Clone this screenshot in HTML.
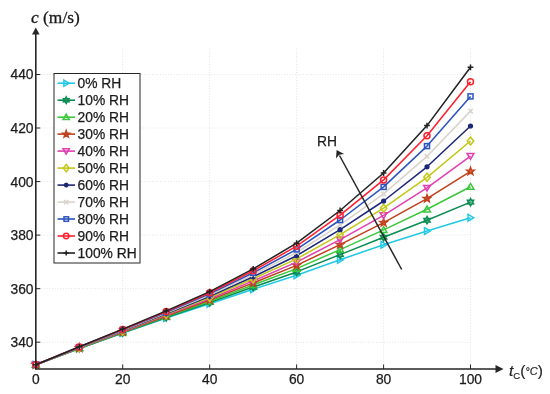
<!DOCTYPE html>
<html lang="en"><head><meta charset="utf-8"><title>Speed of sound vs temperature for RH</title>
<style>html,body{margin:0;padding:0;background:#fff}svg{display:block}</style></head>
<body>
<svg width="550" height="394" viewBox="0 0 550 394">
<rect width="550" height="394" fill="#fff"/>
<path d="M122.7 47.7V369.0M209.7 47.7V369.0M296.6 47.7V369.0M383.6 47.7V369.0M470.5 47.7V369.0M35.8 342.2H470.5M35.8 288.7H470.5M35.8 235.1H470.5M35.8 181.6H470.5M35.8 128.0H470.5M35.8 74.5H470.5" fill="none" stroke="#e2e2e2" stroke-width="1" stroke-dasharray="1 1.7"/>
<polyline points="35.8,364.7 79.3,348.6 122.7,333.1 166.2,318.1 209.7,303.7 253.2,289.2 296.6,275.3 340.1,259.7 383.6,244.8 427.0,231.1 470.5,217.7" fill="none" stroke="#22c8e6" stroke-width="1.55" stroke-linejoin="round"/>
<path d="M33.2 361.3L39.0 364.7L33.2 368.1Z" fill="none" stroke="#22c8e6" stroke-width="1.5"/>
<path d="M76.7 345.2L82.5 348.6L76.7 352.0Z" fill="none" stroke="#22c8e6" stroke-width="1.5"/>
<path d="M120.2 329.7L126.0 333.1L120.2 336.5Z" fill="none" stroke="#22c8e6" stroke-width="1.5"/>
<path d="M163.7 314.7L169.4 318.1L163.7 321.5Z" fill="none" stroke="#22c8e6" stroke-width="1.5"/>
<path d="M207.1 300.3L212.9 303.7L207.1 307.1Z" fill="none" stroke="#22c8e6" stroke-width="1.5"/>
<path d="M250.6 285.8L256.4 289.2L250.6 292.6Z" fill="none" stroke="#22c8e6" stroke-width="1.5"/>
<path d="M294.1 271.9L299.9 275.3L294.1 278.7Z" fill="none" stroke="#22c8e6" stroke-width="1.5"/>
<path d="M337.5 256.3L343.3 259.7L337.5 263.1Z" fill="none" stroke="#22c8e6" stroke-width="1.5"/>
<path d="M381.0 241.4L386.8 244.8L381.0 248.2Z" fill="none" stroke="#22c8e6" stroke-width="1.5"/>
<path d="M424.5 227.7L430.3 231.1L424.5 234.5Z" fill="none" stroke="#22c8e6" stroke-width="1.5"/>
<path d="M468.0 214.3L473.7 217.7L468.0 221.1Z" fill="none" stroke="#22c8e6" stroke-width="1.5"/>
<polyline points="35.8,364.7 79.3,348.4 122.7,332.7 166.2,317.4 209.7,302.4 253.2,287.1 296.6,271.9 340.1,254.6 383.6,237.3 427.0,220.2 470.5,202.1" fill="none" stroke="#0a8c50" stroke-width="1.55" stroke-linejoin="round"/>
<path d="M35.8 361.1L34.8 362.9L32.7 362.9L33.7 364.7L32.7 366.5L34.8 366.5L35.8 368.3L36.8 366.5L38.9 366.5L37.9 364.7L38.9 362.9L36.9 362.9Z" fill="#0a8c50" fill-opacity="0.55" stroke="#0a8c50" stroke-width="1.5"/>
<path d="M79.3 344.8L78.2 346.6L76.2 346.6L77.2 348.4L76.2 350.2L78.2 350.2L79.3 352.0L80.3 350.2L82.4 350.2L81.4 348.4L82.4 346.6L80.3 346.6Z" fill="#0a8c50" fill-opacity="0.55" stroke="#0a8c50" stroke-width="1.5"/>
<path d="M122.7 329.1L121.7 330.9L119.6 330.9L120.6 332.7L119.6 334.5L121.7 334.5L122.7 336.3L123.8 334.5L125.9 334.5L124.8 332.7L125.9 330.9L123.8 330.9Z" fill="#0a8c50" fill-opacity="0.55" stroke="#0a8c50" stroke-width="1.5"/>
<path d="M166.2 313.8L165.2 315.5L163.1 315.6L164.1 317.4L163.1 319.2L165.2 319.2L166.2 321.0L167.3 319.2L169.3 319.2L168.3 317.4L169.3 315.6L167.3 315.5Z" fill="#0a8c50" fill-opacity="0.55" stroke="#0a8c50" stroke-width="1.5"/>
<path d="M209.7 298.8L208.6 300.6L206.6 300.6L207.6 302.4L206.6 304.2L208.6 304.2L209.7 306.0L210.7 304.2L212.8 304.2L211.8 302.4L212.8 300.6L210.7 300.6Z" fill="#0a8c50" fill-opacity="0.55" stroke="#0a8c50" stroke-width="1.5"/>
<path d="M253.2 283.5L252.1 285.3L250.0 285.3L251.1 287.1L250.0 288.9L252.1 288.9L253.2 290.7L254.2 288.9L256.3 288.9L255.3 287.1L256.3 285.3L254.2 285.3Z" fill="#0a8c50" fill-opacity="0.55" stroke="#0a8c50" stroke-width="1.5"/>
<path d="M296.6 268.3L295.6 270.1L293.5 270.1L294.5 271.9L293.5 273.7L295.6 273.8L296.6 275.5L297.7 273.8L299.7 273.7L298.7 271.9L299.7 270.1L297.7 270.1Z" fill="#0a8c50" fill-opacity="0.55" stroke="#0a8c50" stroke-width="1.5"/>
<path d="M340.1 251.0L339.0 252.8L337.0 252.8L338.0 254.6L337.0 256.4L339.0 256.5L340.1 258.2L341.1 256.5L343.2 256.4L342.2 254.6L343.2 252.8L341.1 252.8Z" fill="#0a8c50" fill-opacity="0.55" stroke="#0a8c50" stroke-width="1.5"/>
<path d="M383.6 233.7L382.5 235.5L380.4 235.5L381.5 237.3L380.4 239.1L382.5 239.1L383.6 240.9L384.6 239.1L386.7 239.1L385.7 237.3L386.7 235.5L384.6 235.5Z" fill="#0a8c50" fill-opacity="0.55" stroke="#0a8c50" stroke-width="1.5"/>
<path d="M427.0 216.6L426.0 218.4L423.9 218.4L424.9 220.2L423.9 222.0L426.0 222.0L427.0 223.8L428.1 222.0L430.1 222.0L429.1 220.2L430.1 218.4L428.1 218.4Z" fill="#0a8c50" fill-opacity="0.55" stroke="#0a8c50" stroke-width="1.5"/>
<path d="M470.5 198.5L469.5 200.3L467.4 200.3L468.4 202.1L467.4 203.9L469.5 204.0L470.5 205.7L471.6 204.0L473.6 203.9L472.6 202.1L473.6 200.3L471.6 200.3Z" fill="#0a8c50" fill-opacity="0.55" stroke="#0a8c50" stroke-width="1.5"/>
<polyline points="35.8,364.7 79.3,348.2 122.7,332.3 166.2,316.6 209.7,301.2 253.2,285.0 296.6,268.6 340.1,249.6 383.6,229.9 427.0,209.3 470.5,186.7" fill="none" stroke="#3cc83c" stroke-width="1.55" stroke-linejoin="round"/>
<path d="M32.4 367.2L35.8 361.5L39.2 367.2Z" fill="none" stroke="#3cc83c" stroke-width="1.5"/>
<path d="M75.9 350.8L79.3 345.0L82.7 350.8Z" fill="none" stroke="#3cc83c" stroke-width="1.5"/>
<path d="M119.3 334.8L122.7 329.0L126.1 334.8Z" fill="none" stroke="#3cc83c" stroke-width="1.5"/>
<path d="M162.8 319.2L166.2 313.4L169.6 319.2Z" fill="none" stroke="#3cc83c" stroke-width="1.5"/>
<path d="M206.3 303.7L209.7 297.9L213.1 303.7Z" fill="none" stroke="#3cc83c" stroke-width="1.5"/>
<path d="M249.8 287.5L253.2 281.8L256.6 287.5Z" fill="none" stroke="#3cc83c" stroke-width="1.5"/>
<path d="M293.2 271.2L296.6 265.4L300.0 271.2Z" fill="none" stroke="#3cc83c" stroke-width="1.5"/>
<path d="M336.7 252.1L340.1 246.4L343.5 252.1Z" fill="none" stroke="#3cc83c" stroke-width="1.5"/>
<path d="M380.2 232.5L383.6 226.7L387.0 232.5Z" fill="none" stroke="#3cc83c" stroke-width="1.5"/>
<path d="M423.6 211.9L427.0 206.1L430.4 211.9Z" fill="none" stroke="#3cc83c" stroke-width="1.5"/>
<path d="M467.1 189.2L470.5 183.4L473.9 189.2Z" fill="none" stroke="#3cc83c" stroke-width="1.5"/>
<polyline points="35.8,364.7 79.3,348.0 122.7,331.9 166.2,315.9 209.7,299.9 253.2,282.9 296.6,265.4 340.1,244.6 383.6,222.6 427.0,198.6 470.5,171.3" fill="none" stroke="#c0401c" stroke-width="1.55" stroke-linejoin="round"/>
<path d="M35.8 360.8L34.9 363.4L32.1 363.5L34.3 365.2L33.5 367.8L35.8 366.3L38.1 367.8L37.3 365.2L39.5 363.5L36.7 363.4Z" fill="#c0401c" fill-opacity="0.6" stroke="#c0401c" stroke-width="1.5"/>
<path d="M79.3 344.1L78.3 346.8L75.6 346.8L77.7 348.5L77.0 351.2L79.3 349.6L81.6 351.2L80.8 348.5L83.0 346.8L80.2 346.8Z" fill="#c0401c" fill-opacity="0.6" stroke="#c0401c" stroke-width="1.5"/>
<path d="M122.7 328.0L121.8 330.6L119.0 330.7L121.2 332.4L120.4 335.0L122.7 333.5L125.0 335.0L124.3 332.4L126.4 330.7L123.7 330.6Z" fill="#c0401c" fill-opacity="0.6" stroke="#c0401c" stroke-width="1.5"/>
<path d="M166.2 312.0L165.3 314.6L162.5 314.7L164.7 316.4L163.9 319.0L166.2 317.5L168.5 319.0L167.7 316.4L169.9 314.7L167.2 314.6Z" fill="#c0401c" fill-opacity="0.6" stroke="#c0401c" stroke-width="1.5"/>
<path d="M209.7 296.0L208.7 298.6L206.0 298.7L208.2 300.4L207.4 303.1L209.7 301.5L212.0 303.1L211.2 300.4L213.4 298.7L210.6 298.6Z" fill="#c0401c" fill-opacity="0.6" stroke="#c0401c" stroke-width="1.5"/>
<path d="M253.2 279.0L252.2 281.6L249.4 281.7L251.6 283.4L250.9 286.1L253.2 284.5L255.4 286.1L254.7 283.4L256.9 281.7L254.1 281.6Z" fill="#c0401c" fill-opacity="0.6" stroke="#c0401c" stroke-width="1.5"/>
<path d="M296.6 261.5L295.7 264.1L292.9 264.2L295.1 265.9L294.3 268.5L296.6 267.0L298.9 268.5L298.1 265.9L300.3 264.2L297.6 264.1Z" fill="#c0401c" fill-opacity="0.6" stroke="#c0401c" stroke-width="1.5"/>
<path d="M340.1 240.7L339.1 243.3L336.4 243.4L338.6 245.1L337.8 247.7L340.1 246.2L342.4 247.7L341.6 245.1L343.8 243.4L341.0 243.3Z" fill="#c0401c" fill-opacity="0.6" stroke="#c0401c" stroke-width="1.5"/>
<path d="M383.6 218.7L382.6 221.3L379.9 221.4L382.0 223.1L381.3 225.8L383.6 224.2L385.9 225.8L385.1 223.1L387.3 221.4L384.5 221.3Z" fill="#c0401c" fill-opacity="0.6" stroke="#c0401c" stroke-width="1.5"/>
<path d="M427.0 194.7L426.1 197.3L423.3 197.4L425.5 199.1L424.7 201.7L427.0 200.2L429.3 201.7L428.6 199.1L430.7 197.4L428.0 197.3Z" fill="#c0401c" fill-opacity="0.6" stroke="#c0401c" stroke-width="1.5"/>
<path d="M470.5 167.4L469.6 170.0L466.8 170.1L469.0 171.8L468.2 174.5L470.5 172.9L472.8 174.5L472.0 171.8L474.2 170.1L471.4 170.0Z" fill="#c0401c" fill-opacity="0.6" stroke="#c0401c" stroke-width="1.5"/>
<polyline points="35.8,364.7 79.3,347.9 122.7,331.5 166.2,315.1 209.7,298.7 253.2,280.9 296.6,262.1 340.1,239.6 383.6,215.4 427.0,187.9 470.5,156.1" fill="none" stroke="#e040b0" stroke-width="1.55" stroke-linejoin="round"/>
<path d="M32.4 362.1L35.8 367.9L39.2 362.1Z" fill="none" stroke="#e040b0" stroke-width="1.5"/>
<path d="M75.9 345.3L79.3 351.1L82.7 345.3Z" fill="none" stroke="#e040b0" stroke-width="1.5"/>
<path d="M119.3 328.9L122.7 334.7L126.1 328.9Z" fill="none" stroke="#e040b0" stroke-width="1.5"/>
<path d="M162.8 312.6L166.2 318.4L169.6 312.6Z" fill="none" stroke="#e040b0" stroke-width="1.5"/>
<path d="M206.3 296.2L209.7 301.9L213.1 296.2Z" fill="none" stroke="#e040b0" stroke-width="1.5"/>
<path d="M249.8 278.3L253.2 284.1L256.6 278.3Z" fill="none" stroke="#e040b0" stroke-width="1.5"/>
<path d="M293.2 259.6L296.6 265.3L300.0 259.6Z" fill="none" stroke="#e040b0" stroke-width="1.5"/>
<path d="M336.7 237.0L340.1 242.8L343.5 237.0Z" fill="none" stroke="#e040b0" stroke-width="1.5"/>
<path d="M380.2 212.8L383.6 218.6L387.0 212.8Z" fill="none" stroke="#e040b0" stroke-width="1.5"/>
<path d="M423.6 185.4L427.0 191.1L430.4 185.4Z" fill="none" stroke="#e040b0" stroke-width="1.5"/>
<path d="M467.1 153.5L470.5 159.3L473.9 153.5Z" fill="none" stroke="#e040b0" stroke-width="1.5"/>
<polyline points="35.8,364.7 79.3,347.7 122.7,331.1 166.2,314.4 209.7,297.5 253.2,278.8 296.6,258.9 340.1,234.6 383.6,208.2 427.0,177.3 470.5,141.0" fill="none" stroke="#c4c818" stroke-width="1.55" stroke-linejoin="round"/>
<path d="M32.6 364.7L35.8 360.7L39.0 364.7L35.8 368.7Z" fill="none" stroke="#c4c818" stroke-width="1.5"/>
<path d="M76.1 347.7L79.3 343.7L82.5 347.7L79.3 351.7Z" fill="none" stroke="#c4c818" stroke-width="1.5"/>
<path d="M119.5 331.1L122.7 327.1L125.9 331.1L122.7 335.1Z" fill="none" stroke="#c4c818" stroke-width="1.5"/>
<path d="M163.0 314.4L166.2 310.4L169.4 314.4L166.2 318.4Z" fill="none" stroke="#c4c818" stroke-width="1.5"/>
<path d="M206.5 297.5L209.7 293.5L212.9 297.5L209.7 301.5Z" fill="none" stroke="#c4c818" stroke-width="1.5"/>
<path d="M250.0 278.8L253.2 274.8L256.4 278.8L253.2 282.8Z" fill="none" stroke="#c4c818" stroke-width="1.5"/>
<path d="M293.4 258.9L296.6 254.9L299.8 258.9L296.6 262.9Z" fill="none" stroke="#c4c818" stroke-width="1.5"/>
<path d="M336.9 234.6L340.1 230.6L343.3 234.6L340.1 238.6Z" fill="none" stroke="#c4c818" stroke-width="1.5"/>
<path d="M380.4 208.2L383.6 204.2L386.8 208.2L383.6 212.2Z" fill="none" stroke="#c4c818" stroke-width="1.5"/>
<path d="M423.8 177.3L427.0 173.3L430.2 177.3L427.0 181.3Z" fill="none" stroke="#c4c818" stroke-width="1.5"/>
<path d="M467.3 141.0L470.5 137.0L473.7 141.0L470.5 145.0Z" fill="none" stroke="#c4c818" stroke-width="1.5"/>
<polyline points="35.8,364.7 79.3,347.5 122.7,330.7 166.2,313.7 209.7,296.3 253.2,276.8 296.6,255.7 340.1,229.7 383.6,201.0 427.0,166.8 470.5,126.0" fill="none" stroke="#1c2878" stroke-width="1.55" stroke-linejoin="round"/>
<circle cx="35.8" cy="364.7" r="2.6" fill="#1c2878"/>
<circle cx="79.3" cy="347.5" r="2.6" fill="#1c2878"/>
<circle cx="122.7" cy="330.7" r="2.6" fill="#1c2878"/>
<circle cx="166.2" cy="313.7" r="2.6" fill="#1c2878"/>
<circle cx="209.7" cy="296.3" r="2.6" fill="#1c2878"/>
<circle cx="253.2" cy="276.8" r="2.6" fill="#1c2878"/>
<circle cx="296.6" cy="255.7" r="2.6" fill="#1c2878"/>
<circle cx="340.1" cy="229.7" r="2.6" fill="#1c2878"/>
<circle cx="383.6" cy="201.0" r="2.6" fill="#1c2878"/>
<circle cx="427.0" cy="166.8" r="2.6" fill="#1c2878"/>
<circle cx="470.5" cy="126.0" r="2.6" fill="#1c2878"/>
<polyline points="35.8,364.7 79.3,347.3 122.7,330.3 166.2,313.0 209.7,295.1 253.2,274.8 296.6,252.5 340.1,224.9 383.6,193.9 427.0,156.4 470.5,111.1" fill="none" stroke="#d8d4cc" stroke-width="1.55" stroke-linejoin="round"/>
<path d="M33.5 362.4L38.1 367.0M33.5 367.0L38.1 362.4" fill="none" stroke="#d8d4cc" stroke-width="1.5"/>
<path d="M77.0 345.0L81.6 349.6M77.0 349.6L81.6 345.0" fill="none" stroke="#d8d4cc" stroke-width="1.5"/>
<path d="M120.4 328.0L125.0 332.6M120.4 332.6L125.0 328.0" fill="none" stroke="#d8d4cc" stroke-width="1.5"/>
<path d="M163.9 310.7L168.5 315.3M163.9 315.3L168.5 310.7" fill="none" stroke="#d8d4cc" stroke-width="1.5"/>
<path d="M207.4 292.8L212.0 297.4M207.4 297.4L212.0 292.8" fill="none" stroke="#d8d4cc" stroke-width="1.5"/>
<path d="M250.9 272.5L255.5 277.1M250.9 277.1L255.5 272.5" fill="none" stroke="#d8d4cc" stroke-width="1.5"/>
<path d="M294.3 250.2L298.9 254.8M294.3 254.8L298.9 250.2" fill="none" stroke="#d8d4cc" stroke-width="1.5"/>
<path d="M337.8 222.6L342.4 227.2M337.8 227.2L342.4 222.6" fill="none" stroke="#d8d4cc" stroke-width="1.5"/>
<path d="M381.3 191.6L385.9 196.2M381.3 196.2L385.9 191.6" fill="none" stroke="#d8d4cc" stroke-width="1.5"/>
<path d="M424.7 154.1L429.3 158.7M424.7 158.7L429.3 154.1" fill="none" stroke="#d8d4cc" stroke-width="1.5"/>
<path d="M468.2 108.8L472.8 113.4M468.2 113.4L472.8 108.8" fill="none" stroke="#d8d4cc" stroke-width="1.5"/>
<polyline points="35.8,364.7 79.3,347.1 122.7,329.9 166.2,312.3 209.7,293.9 253.2,272.8 296.6,249.4 340.1,220.0 383.6,186.9 427.0,146.1 470.5,96.4" fill="none" stroke="#2c54c0" stroke-width="1.55" stroke-linejoin="round"/>
<rect x="33.3" y="362.2" width="5.0" height="5.0" fill="none" stroke="#2c54c0" stroke-width="1.5"/>
<rect x="76.8" y="344.6" width="5.0" height="5.0" fill="none" stroke="#2c54c0" stroke-width="1.5"/>
<rect x="120.2" y="327.4" width="5.0" height="5.0" fill="none" stroke="#2c54c0" stroke-width="1.5"/>
<rect x="163.7" y="309.8" width="5.0" height="5.0" fill="none" stroke="#2c54c0" stroke-width="1.5"/>
<rect x="207.2" y="291.4" width="5.0" height="5.0" fill="none" stroke="#2c54c0" stroke-width="1.5"/>
<rect x="250.7" y="270.3" width="5.0" height="5.0" fill="none" stroke="#2c54c0" stroke-width="1.5"/>
<rect x="294.1" y="246.9" width="5.0" height="5.0" fill="none" stroke="#2c54c0" stroke-width="1.5"/>
<rect x="337.6" y="217.5" width="5.0" height="5.0" fill="none" stroke="#2c54c0" stroke-width="1.5"/>
<rect x="381.1" y="184.4" width="5.0" height="5.0" fill="none" stroke="#2c54c0" stroke-width="1.5"/>
<rect x="424.5" y="143.6" width="5.0" height="5.0" fill="none" stroke="#2c54c0" stroke-width="1.5"/>
<rect x="468.0" y="93.9" width="5.0" height="5.0" fill="none" stroke="#2c54c0" stroke-width="1.5"/>
<polyline points="35.8,364.7 79.3,346.9 122.7,329.5 166.2,311.6 209.7,292.8 253.2,270.8 296.6,246.2 340.1,215.2 383.6,179.9 427.0,135.8 470.5,81.8" fill="none" stroke="#ff2030" stroke-width="1.55" stroke-linejoin="round"/>
<circle cx="35.8" cy="364.7" r="3.0" fill="none" stroke="#ff2030" stroke-width="1.5"/>
<circle cx="79.3" cy="346.9" r="3.0" fill="none" stroke="#ff2030" stroke-width="1.5"/>
<circle cx="122.7" cy="329.5" r="3.0" fill="none" stroke="#ff2030" stroke-width="1.5"/>
<circle cx="166.2" cy="311.6" r="3.0" fill="none" stroke="#ff2030" stroke-width="1.5"/>
<circle cx="209.7" cy="292.8" r="3.0" fill="none" stroke="#ff2030" stroke-width="1.5"/>
<circle cx="253.2" cy="270.8" r="3.0" fill="none" stroke="#ff2030" stroke-width="1.5"/>
<circle cx="296.6" cy="246.2" r="3.0" fill="none" stroke="#ff2030" stroke-width="1.5"/>
<circle cx="340.1" cy="215.2" r="3.0" fill="none" stroke="#ff2030" stroke-width="1.5"/>
<circle cx="383.6" cy="179.9" r="3.0" fill="none" stroke="#ff2030" stroke-width="1.5"/>
<circle cx="427.0" cy="135.8" r="3.0" fill="none" stroke="#ff2030" stroke-width="1.5"/>
<circle cx="470.5" cy="81.8" r="3.0" fill="none" stroke="#ff2030" stroke-width="1.5"/>
<polyline points="35.8,364.7 79.3,346.8 122.7,329.1 166.2,310.9 209.7,291.6 253.2,268.9 296.6,243.2 340.1,210.5 383.6,173.0 427.0,125.6 470.5,67.3" fill="none" stroke="#222222" stroke-width="1.55" stroke-linejoin="round"/>
<path d="M32.9 364.7L38.7 364.7M35.8 361.8L35.8 367.6" fill="none" stroke="#222222" stroke-width="1.5"/>
<path d="M76.4 346.8L82.2 346.8M79.3 343.9L79.3 349.7" fill="none" stroke="#222222" stroke-width="1.5"/>
<path d="M119.8 329.1L125.6 329.1M122.7 326.2L122.7 332.0" fill="none" stroke="#222222" stroke-width="1.5"/>
<path d="M163.3 310.9L169.1 310.9M166.2 308.0L166.2 313.8" fill="none" stroke="#222222" stroke-width="1.5"/>
<path d="M206.8 291.6L212.6 291.6M209.7 288.7L209.7 294.5" fill="none" stroke="#222222" stroke-width="1.5"/>
<path d="M250.3 268.9L256.1 268.9M253.2 266.0L253.2 271.8" fill="none" stroke="#222222" stroke-width="1.5"/>
<path d="M293.7 243.2L299.5 243.2M296.6 240.3L296.6 246.1" fill="none" stroke="#222222" stroke-width="1.5"/>
<path d="M337.2 210.5L343.0 210.5M340.1 207.6L340.1 213.4" fill="none" stroke="#222222" stroke-width="1.5"/>
<path d="M380.7 173.0L386.5 173.0M383.6 170.1L383.6 175.9" fill="none" stroke="#222222" stroke-width="1.5"/>
<path d="M424.1 125.6L429.9 125.6M427.0 122.7L427.0 128.5" fill="none" stroke="#222222" stroke-width="1.5"/>
<path d="M467.6 67.3L473.4 67.3M470.5 64.4L470.5 70.2" fill="none" stroke="#222222" stroke-width="1.5"/>
<path d="M35.8 33V369.0H497" fill="none" stroke="#262626" stroke-width="1.6"/>
<path d="M35.8 27.5L32.0 34.5H39.6Z" fill="#262626"/>
<path d="M503.5 369.0L495.5 365.0V373.0Z" fill="#262626"/>
<path d="M35.8 342.2h4.5M35.8 288.7h4.5M35.8 235.1h4.5M35.8 181.6h4.5M35.8 128.0h4.5M35.8 74.5h4.5M122.7 369.0v-4.5M209.7 369.0v-4.5M296.6 369.0v-4.5M383.6 369.0v-4.5M470.5 369.0v-4.5" fill="none" stroke="#262626" stroke-width="1"/>
<g font-family="'Liberation Sans', Arial, sans-serif" font-size="13.8" fill="#1c1c1c" stroke="#1c1c1c" stroke-width="0.25">
<text x="33.5" y="347.1" text-anchor="end">340</text>
<text x="33.5" y="293.6" text-anchor="end">360</text>
<text x="33.5" y="240.0" text-anchor="end">380</text>
<text x="33.5" y="186.5" text-anchor="end">400</text>
<text x="33.5" y="132.9" text-anchor="end">420</text>
<text x="33.5" y="79.4" text-anchor="end">440</text>
<text x="35.8" y="384.3" text-anchor="middle">0</text>
<text x="122.7" y="384.3" text-anchor="middle">20</text>
<text x="209.7" y="384.3" text-anchor="middle">40</text>
<text x="296.6" y="384.3" text-anchor="middle">60</text>
<text x="383.6" y="384.3" text-anchor="middle">80</text>
<text x="470.5" y="384.3" text-anchor="middle">100</text>
<text x="317" y="146">RH</text>
<rect x="54" y="73.5" width="86" height="189.5" fill="#fff" stroke="#262626" stroke-width="1"/>
<path d="M57.5 83.2H75" stroke="#22c8e6" stroke-width="1.6" fill="none"/>
<path d="M63.9 80.1L69.1 83.2L63.9 86.3Z" fill="none" stroke="#22c8e6" stroke-width="1.5"/>
<text x="77.6" y="88.1">0% RH</text>
<path d="M57.5 100.2H75" stroke="#0a8c50" stroke-width="1.6" fill="none"/>
<path d="M66.2 96.9L65.3 98.5L63.4 98.6L64.3 100.2L63.4 101.8L65.3 101.8L66.2 103.4L67.1 101.8L69.0 101.8L68.1 100.2L69.0 98.6L67.1 98.5Z" fill="#0a8c50" fill-opacity="0.55" stroke="#0a8c50" stroke-width="1.5"/>
<text x="77.6" y="105.1">10% RH</text>
<path d="M57.5 117.2H75" stroke="#3cc83c" stroke-width="1.6" fill="none"/>
<path d="M63.1 119.5L66.2 114.3L69.3 119.5Z" fill="none" stroke="#3cc83c" stroke-width="1.5"/>
<text x="77.6" y="122.1">20% RH</text>
<path d="M57.5 134.1H75" stroke="#c0401c" stroke-width="1.6" fill="none"/>
<path d="M66.2 130.6L65.4 133.0L62.9 133.1L64.8 134.6L64.1 137.0L66.2 135.6L68.3 137.0L67.6 134.6L69.5 133.1L67.0 133.0Z" fill="#c0401c" fill-opacity="0.6" stroke="#c0401c" stroke-width="1.5"/>
<text x="77.6" y="139.0">30% RH</text>
<path d="M57.5 151.1H75" stroke="#e040b0" stroke-width="1.6" fill="none"/>
<path d="M63.1 148.8L66.2 154.0L69.3 148.8Z" fill="none" stroke="#e040b0" stroke-width="1.5"/>
<text x="77.6" y="156.0">40% RH</text>
<path d="M57.5 168.1H75" stroke="#c4c818" stroke-width="1.6" fill="none"/>
<path d="M63.3 168.1L66.2 164.5L69.1 168.1L66.2 171.7Z" fill="none" stroke="#c4c818" stroke-width="1.5"/>
<text x="77.6" y="173.0">50% RH</text>
<path d="M57.5 185.1H75" stroke="#1c2878" stroke-width="1.6" fill="none"/>
<circle cx="66.2" cy="185.1" r="2.3" fill="#1c2878"/>
<text x="77.6" y="190.0">60% RH</text>
<path d="M57.5 202.1H75" stroke="#d8d4cc" stroke-width="1.6" fill="none"/>
<path d="M64.1 200.0L68.3 204.1M64.1 204.1L68.3 200.0" fill="none" stroke="#d8d4cc" stroke-width="1.5"/>
<text x="77.6" y="207.0">70% RH</text>
<path d="M57.5 219.0H75" stroke="#2c54c0" stroke-width="1.6" fill="none"/>
<rect x="64.0" y="216.8" width="4.5" height="4.5" fill="none" stroke="#2c54c0" stroke-width="1.5"/>
<text x="77.6" y="223.9">80% RH</text>
<path d="M57.5 236.0H75" stroke="#ff2030" stroke-width="1.6" fill="none"/>
<circle cx="66.2" cy="236.0" r="2.7" fill="none" stroke="#ff2030" stroke-width="1.5"/>
<text x="77.6" y="240.9">90% RH</text>
<path d="M57.5 253.0H75" stroke="#222222" stroke-width="1.6" fill="none"/>
<path d="M63.6 253.0L68.8 253.0M66.2 250.4L66.2 255.6" fill="none" stroke="#222222" stroke-width="1.5"/>
<text x="77.6" y="257.9">100% RH</text>
</g>
<path d="M401.7 269.5L339.5 155.5" stroke="#262626" stroke-width="1.5" fill="none"/>
<path d="M336.6 150.0L336.0 158.5L339.2 154.7L344.1 154.1Z" fill="#262626"/>
<text x="31" y="22.8" font-family="'Liberation Serif', serif" font-size="17.4" fill="#1a1a1a" stroke="#1a1a1a" stroke-width="0.3"><tspan font-style="italic">c</tspan> (m/s)</text>
<text x="509" y="375.5" font-family="'Liberation Sans', Arial, sans-serif" font-size="15.5" fill="#262626" stroke="#262626" stroke-width="0.2"><tspan font-style="italic">t</tspan><tspan font-size="9.5" dy="3.5">C</tspan><tspan dy="-3.5">(</tspan><tspan font-size="11" dy="-1" font-style="italic">°C</tspan><tspan dy="1">)</tspan></text>
</svg>
</body></html>
